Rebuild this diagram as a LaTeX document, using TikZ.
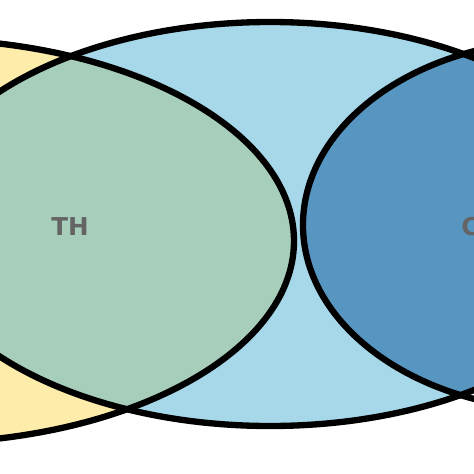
\documentclass[tikz,border=0pt]{standalone}
\usepackage{fontspec}
\setsansfont{DejaVu Sans}

\definecolor{venyellow}{RGB}{253,236,170}
\definecolor{venblue}{RGB}{166,216,234}
\definecolor{vengreen}{RGB}{166,206,187}
\definecolor{vendark}{RGB}{88,150,194}
\definecolor{vengray}{RGB}{100,100,100}

\begin{document}
\begin{tikzpicture}[
  x=0.02cm, y=-0.02cm,
  rim/.style={draw=black,line width=3.6pt},
  setlabel/.style={text=vengray,font=\sffamily\bfseries\fontsize{14}{16}\selectfont,inner sep=0}
  ]

  \useasboundingbox (0,0) rectangle (474,474);

  \fill[venyellow] (-80,241) ellipse [x radius=374, y radius=202];
  \fill[venblue] (270,224) ellipse [x radius=358, y radius=202];
  \begin{scope}
    \clip (-80,241) ellipse [x radius=374, y radius=202];
    \fill[vengreen] (270,224) ellipse [x radius=358, y radius=202];
  \end{scope}
  \begin{scope}
    \clip (270,224) ellipse [x radius=358, y radius=202];
    \fill[vendark] (563,225) ellipse [x radius=260, y radius=185];
  \end{scope}

  \draw[rim] (-80,241) ellipse [x radius=374, y radius=202];
  \draw[rim] (270,224) ellipse [x radius=358, y radius=202];
  \draw[rim] (563,225) ellipse [x radius=260, y radius=185];

  \node [setlabel] (th) at (70,227) {TH};
  \node [setlabel,anchor=west] (c) at (461,227) {C};

\end{tikzpicture}
\end{document}
